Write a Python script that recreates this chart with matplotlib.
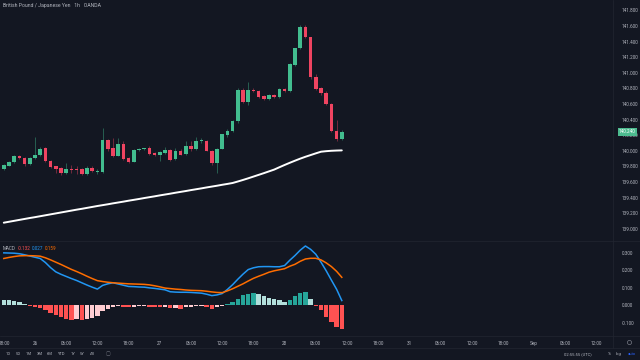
import matplotlib
matplotlib.use('Agg')
import matplotlib.pyplot as plt
from matplotlib.lines import Line2D

W, H = 640, 360
BG = '#131722'
TXT = '#b2b5be'
UP = '#42bd8f'
DN = '#ef4461'
FONT = 'Roboto'

# hourly candles GBPJPY, 25 Aug 18:00 -> 28 Aug 11:00
opens = [139.765, 139.808, 139.851, 139.928, 139.911, 139.829, 139.911, 139.941, 140.030, 139.872,
         139.804, 139.774, 139.710, 139.763, 139.761, 139.761, 139.701, 139.782, 139.731, 139.731,
         140.141, 140.039, 139.936, 140.082, 139.902, 139.855, 140.009, 140.022, 140.030, 139.966,
         139.945, 139.975, 140.009, 139.889, 139.992, 139.958, 140.060, 140.018, 140.120, 140.129,
         140.000, 139.847, 140.026, 140.205, 140.248, 140.377, 140.778, 140.624, 140.778, 140.770,
         140.701, 140.667, 140.710, 140.684, 140.791, 140.761, 141.099, 141.312, 141.590, 141.453,
         140.941, 140.804, 140.744, 140.599, 140.257, 140.146]
closes = [139.817, 139.859, 139.928, 139.902, 139.825, 139.911, 139.941, 140.022, 139.868, 139.791,
          139.761, 139.710, 139.765, 139.756, 139.752, 139.701, 139.774, 139.740, 139.740, 140.141,
          140.026, 139.936, 140.082, 139.894, 139.855, 140.009, 140.026, 140.030, 139.958, 139.945,
          139.979, 140.009, 139.881, 140.000, 139.949, 140.060, 140.018, 140.129, 140.137, 140.000,
          139.847, 140.026, 140.214, 140.257, 140.385, 140.778, 140.624, 140.778, 140.770, 140.693,
          140.667, 140.718, 140.684, 140.791, 140.761, 141.107, 141.312, 141.590, 141.453, 140.941,
          140.795, 140.735, 140.599, 140.257, 140.146, 140.240]
highs = [139.83, 139.87, 139.94, 139.94, 139.92, 139.92, 140.18, 140.05, 140.05, 139.88,
         139.81, 139.79, 139.84, 139.82, 139.80, 139.78, 139.80, 139.80, 139.76, 140.29,
         140.15, 140.16, 140.16, 140.12, 139.92, 140.02, 140.04, 140.04, 140.06, 139.98,
         139.99, 140.05, 140.02, 140.04, 140.02, 140.12, 140.13, 140.18, 140.16, 140.14,
         140.01, 140.04, 140.22, 140.28, 140.40, 140.80, 140.80, 140.88, 140.80, 140.78,
         140.72, 140.73, 140.73, 140.80, 140.80, 141.12, 141.32, 141.61, 141.61, 141.46,
         140.98, 140.82, 140.76, 140.61, 140.40, 140.26]
lows = [139.75, 139.80, 139.84, 139.89, 139.81, 139.82, 139.90, 139.93, 139.86, 139.78,
        139.72, 139.69, 139.70, 139.71, 139.70, 139.69, 139.69, 139.73, 139.70, 139.72,
        140.00, 139.92, 139.93, 139.88, 139.84, 139.85, 140.00, 140.01, 139.95, 139.93,
        139.87, 139.96, 139.87, 139.88, 139.94, 139.95, 140.00, 140.01, 140.10, 139.99,
        139.82, 139.71, 140.02, 140.18, 140.24, 140.36, 140.61, 140.58, 140.75, 140.68,
        140.65, 140.65, 140.67, 140.67, 140.75, 140.75, 141.08, 141.30, 141.44, 140.92,
        140.78, 140.72, 140.58, 140.24, 140.12, 140.14]

# long moving average (white line)
ma_line = [139.077, 139.089, 139.101, 139.113, 139.125, 139.137, 139.148, 139.160, 139.172, 139.184,
           139.196, 139.208, 139.220, 139.232, 139.244, 139.255, 139.267, 139.279, 139.291, 139.302,
           139.313, 139.325, 139.336, 139.347, 139.359, 139.370, 139.381, 139.393, 139.404, 139.415,
           139.427, 139.438, 139.449, 139.461, 139.472, 139.483, 139.495, 139.506, 139.517, 139.529,
           139.540, 139.551, 139.563, 139.574, 139.586, 139.605, 139.625, 139.646, 139.668, 139.690,
           139.712, 139.735, 139.758, 139.788, 139.817, 139.845, 139.872, 139.898, 139.922, 139.944,
           139.966, 139.987, 139.994, 139.999, 140.002, 140.004]

macd = [0.298, 0.297, 0.296, 0.293, 0.287, 0.280, 0.273, 0.266, 0.243, 0.214,
        0.190, 0.176, 0.164, 0.152, 0.141, 0.128, 0.115, 0.103, 0.092, 0.113,
        0.122, 0.128, 0.121, 0.114, 0.107, 0.106, 0.104, 0.103, 0.099, 0.096,
        0.092, 0.088, 0.077, 0.075, 0.074, 0.074, 0.073, 0.071, 0.069, 0.063,
        0.055, 0.059, 0.067, 0.090, 0.117, 0.148, 0.177, 0.203, 0.213, 0.219,
        0.220, 0.220, 0.219, 0.219, 0.226, 0.256, 0.283, 0.313, 0.337, 0.318,
        0.290, 0.245, 0.196, 0.143, 0.091, 0.027]
signal = [0.266, 0.272, 0.277, 0.281, 0.282, 0.282, 0.281, 0.279, 0.270, 0.258,
          0.245, 0.232, 0.218, 0.204, 0.192, 0.179, 0.165, 0.152, 0.140, 0.135,
          0.131, 0.128, 0.126, 0.124, 0.122, 0.121, 0.120, 0.119, 0.116, 0.111,
          0.105, 0.098, 0.095, 0.092, 0.090, 0.087, 0.085, 0.084, 0.083, 0.080,
          0.076, 0.073, 0.072, 0.082, 0.094, 0.108, 0.122, 0.138, 0.153, 0.165,
          0.176, 0.188, 0.196, 0.202, 0.208, 0.222, 0.233, 0.250, 0.263, 0.267,
          0.267, 0.258, 0.241, 0.220, 0.193, 0.159]
hist = [0.032, 0.029, 0.025, 0.017, 0.006, -0.003, -0.008, -0.013, -0.027, -0.042,
        -0.057, -0.068, -0.076, -0.082, -0.078, -0.084, -0.078, -0.070, -0.060, -0.035,
        -0.020, -0.012, -0.005, -0.008, -0.012, -0.008, -0.006, -0.005, -0.008, -0.010,
        -0.012, -0.010, -0.018, -0.016, -0.022, -0.012, -0.008, -0.003, -0.002, -0.010,
        -0.020, -0.012, -0.003, 0.006, 0.019, 0.038, 0.057, 0.066, 0.070, 0.066,
        0.053, 0.044, 0.034, 0.028, 0.021, 0.028, 0.051, 0.072, 0.074, 0.036,
        -0.004, -0.027, -0.065, -0.097, -0.122, -0.132]

time_labels = ['18:00', '26', '06:00', '12:00', '18:00', '27', '06:00', '12:00', '18:00', '28',
               '06:00', '12:00', '18:00', '31', '06:00', '12:00', '18:00', 'Sep', '06:00', '12:00']
price_ticks = [139.0, 139.2, 139.4, 139.6, 139.8, 140.0, 140.2, 140.4, 140.6,
               140.8, 141.0, 141.2, 141.4, 141.6, 141.8]
macd_ticks = [-0.1, 0.0, 0.1, 0.2, 0.3]
ranges = ['1D', '5D', '1M', '3M', '6M', 'YTD', '1Y', '5Y', 'All']
range_x = [8, 18, 29, 40, 50, 61, 73, 82, 92]


def fx(x):
    return x / W


def fy(y):
    return 1 - y / H


fig = plt.figure(figsize=(6.4, 3.6), dpi=100, facecolor=BG)
ax = fig.add_axes([0, fy(240), fx(612), 240 / H])
axm = fig.add_axes([0, fy(335), fx(612), (335 - 241) / H])

n = len(opens)
xs = list(range(n))
xlim = (-3.8 / 5.2, (612 - 3.8) / 5.2)

for a in (ax, axm):
    a.set_facecolor(BG)
    a.set_xlim(*xlim)
    for s in a.spines.values():
        s.set_visible(False)
    a.yaxis.tick_right()
    a.tick_params(axis='y', length=0, pad=7, labelsize=3.3, labelcolor=TXT)

# candles
for i in xs:
    o, c = opens[i], closes[i]
    col = UP if c >= o else DN
    ax.vlines(i, lows[i], highs[i], color=col, lw=0.5, alpha=0.6)
    ax.bar(i, max(abs(c - o), 0.006), bottom=min(o, c), width=0.72, color=col, lw=0)
ax.plot(xs, ma_line, color='white', lw=1.4, solid_capstyle='round')

ax.set_ylim(140 + (150.7 - 240) / 78, 140 + 150.7 / 78)
ax.set_yticks(price_ticks)
ax.set_yticklabels(['%.3f' % p for p in price_ticks], family=FONT)
ax.set_xticks([])

# last price tag
last = closes[-1]
ax.text(1.011, (last - ax.get_ylim()[0]) / (ax.get_ylim()[1] - ax.get_ylim()[0]), '%.3f' % last,
        transform=ax.transAxes, ha='left', va='center', fontsize=3.3, color='white', family=FONT,
        bbox=dict(boxstyle='square,pad=0.25', fc='#4cbb8f', ec='none'), clip_on=False)

# MACD pane
hcols = []
for i, h in enumerate(hist):
    prev = hist[i - 1] if i else h + 1
    if h >= 0:
        hcols.append('#26a69a' if h > prev else '#b2dfdb')
    else:
        hcols.append('#ff5252' if h < prev else '#ffcdd2')
axm.bar(xs, hist, width=0.85, color=hcols, lw=0)
axm.plot(xs, macd, color='#2196f3', lw=1.1)
axm.plot(xs, signal, color='#ff6d00', lw=1.1)
axm.set_ylim((305.3 - 335) / 176, (305.3 - 241) / 176)
axm.set_yticks(macd_ticks)
axm.set_yticklabels(['%.3f' % v for v in macd_ticks], family=FONT)
axm.set_xticks(range(0, 6 * len(time_labels), 6))
axm.set_xticklabels(time_labels, family=FONT)
axm.tick_params(axis='x', length=0, pad=4, labelsize=3.3, labelcolor=TXT)

# header texts
fig.text(fx(3), fy(6), 'British Pound / Japanese Yen   1h   OANDA', fontsize=3.7, color=TXT,
         family=FONT, va='center')
fig.text(fx(3), fy(248), 'MACD', fontsize=3.3, color=TXT, family=FONT, va='center')
fig.text(fx(18), fy(248), '%.3f' % hist[-1], fontsize=3.3, color='#ff5252', family=FONT, va='center')
fig.text(fx(32), fy(248), '%.3f' % macd[-1], fontsize=3.3, color='#2196f3', family=FONT, va='center')
fig.text(fx(45), fy(248), '%.3f' % signal[-1], fontsize=3.3, color='#ff6d00', family=FONT, va='center')

# separators
for y in (240.5, 336, 348):
    fig.add_artist(Line2D([0, 1], [fy(y), fy(y)], color='#222631', lw=0.5))
fig.add_artist(Line2D([fx(613), fx(613)], [fy(348), 1], color='#222631', lw=0.5))

# bottom toolbar
for lab, x in zip(ranges, range_x):
    fig.text(fx(x), fy(354), lab, fontsize=3.0, color=TXT, family=FONT, ha='center', va='center')
fig.text(fx(108), fy(354), '\u25a2', fontsize=3.5, color='#787b86', ha='center', va='center')
fig.text(fx(578), fy(354), '02:55:55 (UTC)', fontsize=3.0, color=TXT, family=FONT, ha='center', va='center')
fig.text(fx(609), fy(354), '%', fontsize=3.0, color=TXT, family=FONT, ha='center', va='center')
fig.text(fx(619), fy(354), 'log', fontsize=3.0, color=TXT, family=FONT, ha='center', va='center')
fig.text(fx(632), fy(354), 'auto', fontsize=3.0, color='#2962ff', family=FONT, ha='center', va='center')
fig.add_artist(Line2D([fx(629)], [fy(342)], marker='o', ms=3, mfc='none', mec='#787b86', mew=0.5))

fig.savefig('out.png', dpi=100, facecolor=BG)
